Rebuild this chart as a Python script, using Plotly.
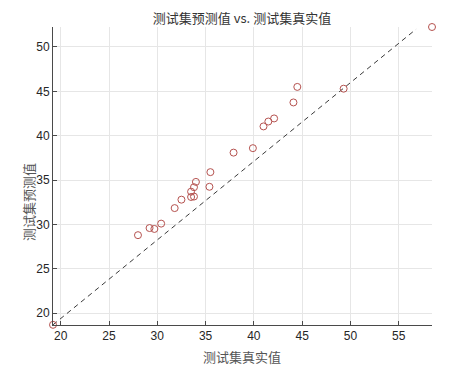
import plotly.graph_objects as go

# Data
y_true = [19.2, 28.0, 29.2, 29.7, 30.4, 31.8, 32.5, 33.5, 33.8, 33.5, 33.8, 34.0,
          35.4, 35.5, 37.9, 39.9, 41.0, 41.5, 42.1, 44.1, 44.5, 49.3, 58.45]
y_pred = [18.7, 28.8, 29.6, 29.5, 30.1, 31.85, 32.8, 33.1, 33.15, 33.7, 34.2, 34.8,
          34.25, 35.9, 38.1, 38.6, 41.05, 41.6, 41.95, 43.75, 45.5, 45.3, 52.25]
ref_line_x = [19.2, 56.8]
ref_line_y = [18.7, 52.0]
x_ticks = [20, 25, 30, 35, 40, 45, 50, 55]
y_ticks = [20, 25, 30, 35, 40, 45, 50]
x_range = [19.2, 58.45]
y_range = [18.68, 52.25]

title_text = "测试集预测值 vs. 测试集真实值"
x_label = "测试集真实值"
y_label = "测试集预测值"

cjk = "Noto Sans CJK SC, Liberation Sans, sans-serif"
latin = "Liberation Sans, Arial, sans-serif"

W, H = 466, 359

fig = go.Figure()
fig.add_trace(go.Scatter(
    x=ref_line_x, y=ref_line_y, mode="lines",
    line=dict(color="#3a3a3a", width=1, dash="5px,4px"),
    showlegend=False, hoverinfo="skip"))
fig.add_trace(go.Scatter(
    x=y_true, y=y_pred, mode="markers",
    marker=dict(symbol="circle-open", size=7, color="#b5524f", line=dict(width=1)),
    cliponaxis=False, showlegend=False))

axis_common = dict(
    showgrid=True, gridcolor="#e6e6e6", gridwidth=1,
    showline=True, linecolor="#4a4a4a", linewidth=1,
    ticks="inside", ticklen=4, tickcolor="#4a4a4a",
    tickfont=dict(family=latin, size=12, color="#262626"),
    zeroline=False, mirror=False, automargin=False,
)

fig.update_layout(
    width=W, height=H,
    margin=dict(l=45, r=42, t=19, b=42),
    paper_bgcolor="white", plot_bgcolor="white",
    title=dict(text=title_text, x=234 / W, xanchor="center",
               y=1 - 10.5 / H, yanchor="middle", yref="container",
               font=dict(family=cjk, size=13, color="#333333")),
    xaxis=dict(range=x_range, tickvals=x_ticks, **axis_common),
    yaxis=dict(range=y_range, tickvals=y_ticks, **axis_common),
    annotations=[
        dict(text=y_label, textangle=-90, xref="paper", yref="paper",
             x=-24 / 379, y=0.413,
             xanchor="center", yanchor="middle", showarrow=False,
             font=dict(family=cjk, size=13, color="#555555")),
        dict(text=x_label, xref="paper", yref="paper",
             x=(242 - 53) / 379, y=(325 - 356) / 298,
             xanchor="center", yanchor="middle", showarrow=False,
             font=dict(family=cjk, size=13, color="#555555")),
    ],
)

fig.write_html("out.html")
